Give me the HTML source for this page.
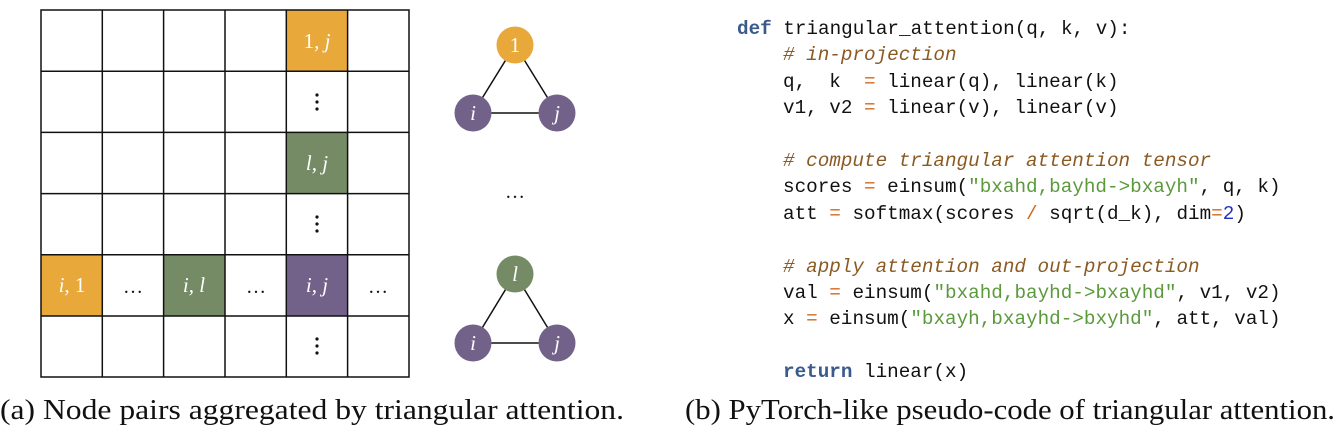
<!DOCTYPE html>
<html><head><meta charset="utf-8"><style>
html,body{margin:0;padding:0;background:#fff;width:1340px;height:434px;overflow:hidden}
.c{font-family:"Liberation Mono",monospace;font-size:19.3px;fill:#111;white-space:pre}
.k{fill:#3a5a8c;font-weight:bold}
.cm{fill:#8b5a22;font-style:italic}
.s{fill:#5b9a3c}
.o{fill:#d2691e}
.n{fill:#2233bb}
.m{font-family:"Liberation Serif",serif;font-style:italic;font-size:21px;fill:#fff}
.cap{font-family:"Liberation Serif",serif;font-size:28px;fill:#111}
</style></head><body>
<svg width="1340" height="434" xmlns="http://www.w3.org/2000/svg" xml:space="preserve">
<rect x="286" y="10" width="61.3" height="61.2" fill="#e8a83a"/>
<rect x="286" y="132.4" width="61.3" height="61.2" fill="#758b66"/>
<rect x="41" y="254.8" width="61.3" height="61.2" fill="#e8a83a"/>
<rect x="163.6" y="254.8" width="61.3" height="61.2" fill="#758b66"/>
<rect x="286" y="254.8" width="61.3" height="61.2" fill="#72628a"/>
<g stroke="#111" stroke-width="1.5" fill="none">
<rect x="41" y="10" width="368" height="367"/>
<line x1="102.3" y1="10" x2="102.3" y2="377"/><line x1="163.6" y1="10" x2="163.6" y2="377"/>
<line x1="225" y1="10" x2="225" y2="377"/><line x1="286.3" y1="10" x2="286.3" y2="377"/>
<line x1="347.6" y1="10" x2="347.6" y2="377"/>
<line x1="41" y1="71.2" x2="409" y2="71.2"/><line x1="41" y1="132.4" x2="409" y2="132.4"/>
<line x1="41" y1="193.6" x2="409" y2="193.6"/><line x1="41" y1="254.8" x2="409" y2="254.8"/>
<line x1="41" y1="316" x2="409" y2="316"/>
</g>
<g class="m" text-anchor="middle">
<text x="317" y="48"><tspan font-style="normal">1</tspan>, j</text>
<text x="317" y="170">l, j</text>
<text x="72" y="292">i, <tspan font-style="normal">1</tspan></text>
<text x="194" y="292">i, l</text>
<text x="317" y="292">i, j</text>
</g>
<g font-family="Liberation Serif,serif" font-size="20" fill="#111" text-anchor="middle">
<text x="133" y="293">…</text><text x="256" y="293">…</text><text x="378" y="293">…</text>
<text x="515" y="198">…</text>
</g>
<g fill="#111">
<circle cx="317" cy="95" r="1.6"/><circle cx="317" cy="102" r="1.6"/><circle cx="317" cy="109" r="1.6"/>
<circle cx="317" cy="217" r="1.6"/><circle cx="317" cy="224" r="1.6"/><circle cx="317" cy="231" r="1.6"/>
<circle cx="317" cy="339" r="1.6"/><circle cx="317" cy="346" r="1.6"/><circle cx="317" cy="353" r="1.6"/>
</g>
<g stroke="#111" stroke-width="1.5">
<line x1="515" y1="45" x2="473" y2="113"/><line x1="515" y1="45" x2="557" y2="113"/><line x1="473" y1="113" x2="557" y2="113"/>
<line x1="515" y1="274" x2="473" y2="343"/><line x1="515" y1="274" x2="557" y2="343"/><line x1="473" y1="343" x2="557" y2="343"/>
</g>
<circle cx="515" cy="45" r="18.5" fill="#e8a83a"/>
<circle cx="473" cy="113" r="18.5" fill="#72628a"/>
<circle cx="557" cy="113" r="18.5" fill="#72628a"/>
<circle cx="515" cy="274" r="18.5" fill="#758b66"/>
<circle cx="473" cy="343" r="18.5" fill="#72628a"/>
<circle cx="557" cy="343" r="18.5" fill="#72628a"/>
<g class="m" text-anchor="middle">
<text x="515" y="52" font-style="normal">1</text>
<text x="473" y="120">i</text><text x="557" y="120">j</text>
<text x="515" y="281">l</text>
<text x="473" y="350">i</text><text x="557" y="350">j</text>
</g>
<g class="c">
<text x="737" y="34"><tspan class="k">def</tspan> triangular_attention(q, k, v):</text>
<text x="783" y="60" class="c cm"># in-projection</text>
<text x="783" y="87">q,&#160;&#160;k&#160;&#160;<tspan class="o">=</tspan> linear(q), linear(k)</text>
<text x="783" y="113">v1, v2 <tspan class="o">=</tspan> linear(v), linear(v)</text>
<text x="783" y="166" class="c cm"># compute triangular attention tensor</text>
<text x="783" y="192">scores <tspan class="o">=</tspan> einsum(<tspan class="s">"bxahd,bayhd-&gt;bxayh"</tspan>, q, k)</text>
<text x="783" y="219">att <tspan class="o">=</tspan> softmax(scores <tspan class="o">/</tspan> sqrt(d_k), dim<tspan class="o">=</tspan><tspan class="n">2</tspan>)</text>
<text x="783" y="272" class="c cm"># apply attention and out-projection</text>
<text x="783" y="298">val <tspan class="o">=</tspan> einsum(<tspan class="s">"bxahd,bayhd-&gt;bxayhd"</tspan>, v1, v2)</text>
<text x="783" y="324">x <tspan class="o">=</tspan> einsum(<tspan class="s">"bxayh,bxayhd-&gt;bxyhd"</tspan>, att, val)</text>
<text x="783" y="377"><tspan class="k">return</tspan> linear(x)</text>
</g>
<text class="cap" x="0" y="419" textLength="624" lengthAdjust="spacingAndGlyphs">(a) Node pairs aggregated by triangular attention.</text>
<text class="cap" x="685" y="419" textLength="650" lengthAdjust="spacingAndGlyphs">(b) PyTorch-like pseudo-code of triangular attention.</text>
</svg>
</body></html>
